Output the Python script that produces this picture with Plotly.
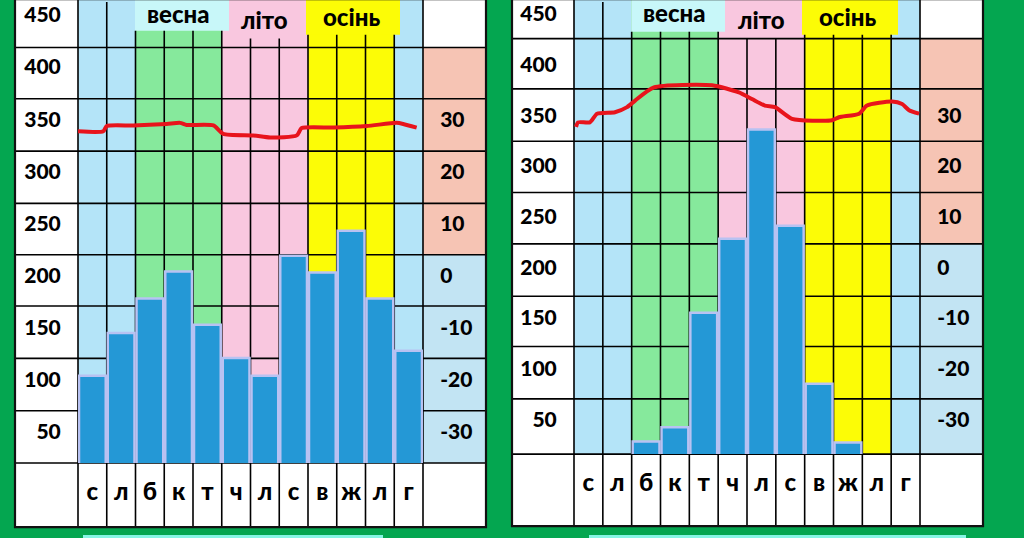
import plotly.graph_objects as go

# ---- data -------------------------------------------------------------
months = ["с", "л", "б", "к", "т", "ч", "л", "с", "в", "ж", "л", "г"]
month_pos = list(range(1, 13))
seasons = ["весна", "літо", "осінь"]
season_mid = [4, 7, 10]

precip_ticks = [50, 100, 150, 200, 250, 300, 350, 400, 450]
temp_ticks = [30, 20, 10, 0, -10, -20, -30]

# left diagram: precipitation (mm) and temperature curve (month position, °C)
precip_a = [104, 145, 178, 204, 153, 121, 104, 219, 203, 243, 178, 128]
temp_a_pos = [0.5, 1.38, 1.5, 2.42, 3.58, 4.05, 4.28, 5.21, 5.55, 6.6, 7.18,
              8.11, 8.28, 9.38, 10.54, 11.58, 11.81, 12.28]
temp_a = [27.7, 27.7, 28.7, 28.8, 29.1, 29.3, 28.9, 28.8, 27.2, 26.9, 26.5,
          26.9, 28.3, 28.4, 28.7, 29.3, 29.1, 28.4]

# right diagram
precip_b = [0, 0, 28, 42, 155, 228, 336, 241, 85, 27, 0, 0]
temp_b_pos = [0.57, 0.64, 1.05, 1.3, 1.92, 2.34, 2.62, 3.27, 5.29, 6.22, 6.67,
              7.12, 7.47, 8.06, 9.45, 9.69, 10.39, 10.66, 11.53, 11.88, 12.12, 12.47]
temp_b = [27.7, 28.6, 28.6, 30.3, 30.6, 31.6, 32.9, 35.5, 35.9, 34.5, 33.2,
          31.9, 31.6, 29.3, 29.0, 29.6, 30.3, 31.9, 32.7, 32.2, 31.0, 30.3]

# ---- styling ----------------------------------------------------------
W, H = 1024, 538
GREEN = "#04a650"
SKY = "#b4e4f8"
SPRING = "#86e99c"
PINK = "#f9c7df"
YELLOW = "#fcfc06"
SPRING_BOX = "#c8f7f9"
WARM = "#f6c4b4"
COLD = "#c2e4f3"
BAR = "#2498d6"
BAR_EDGE = "#b8c2f2"
RED = "#e8141c"
FAMILY = "Lato, 'Open Sans', sans-serif"
FONT = dict(family=FAMILY, size=21, color="black", weight=900)
BIG = dict(family=FAMILY, size=24, color="black", weight=900)

# pixel layout of the two tables
panels = [
    dict(x0=15, xm0=78, xm1=423, x1=486, bottom=527,
         rows=[41, 93, 146, 199, 251, 303, 356, 409, 462], warm_end=251,
         boxes=[(135, 229, 24, SPRING_BOX), (229, 306, 32, PINK), (306, 400, 28, YELLOW)],
         tops=[-5, 24, 24, 24, 24, 32, 32, 28, 28, 28, 28],
         label_y=[7, 13, 10], strip=(83, 383), prange=[20.4, 457.6]),
    dict(x0=512, xm0=574, xm1=920, x1=983, bottom=526,
         rows=[32, 83, 136, 188, 240, 293, 344, 397, 453], warm_end=240,
         boxes=[(632, 725, 25, SPRING_BOX), (725, 802, 32, PINK), (802, 898, 28, YELLOW)],
         tops=[-5, 25, 25, 25, 25, 32, 32, 28, 28, 28, 28],
         label_y=[6, 13, 10], strip=(589, 966), prange=[15.6, 456.8]),
]
month_fill = [SKY, SKY, SPRING, SPRING, SPRING, PINK, PINK, PINK,
              YELLOW, YELLOW, YELLOW, SKY]


def fx(px):
    return px / W


def fy(py):
    return 1 - py / H


def to_temp(p):
    return (p - 200) / 5


fig = go.Figure()
shapes = []
annotations = []
series = [(precip_a, temp_a_pos, temp_a), (precip_b, temp_b_pos, temp_b)]

for i, (pn, (precip, tpos, temp)) in enumerate(zip(panels, series)):
    xa = "x" if i == 0 else "x3"
    ya = "y" if i == 0 else "y3"
    ta = "y2" if i == 0 else "y4"

    fig.add_trace(go.Bar(x=month_pos, y=precip, xaxis=xa, yaxis=ya,
                         marker=dict(color=BAR, line=dict(color=BAR_EDGE, width=2.5)),
                         showlegend=False, hoverinfo="y"))
    fig.add_trace(go.Scatter(x=tpos, y=temp, xaxis=xa, yaxis=ta, mode="lines",
                             line=dict(color=RED, width=4, shape="spline", smoothing=0.6),
                             showlegend=False, hoverinfo="y"))

    top = -8
    bot_plot = pn["rows"][-1]
    cw = (pn["xm1"] - pn["xm0"]) / 12

    def rect(x0, x1, y0, y1, color):
        shapes.append(dict(type="rect", xref="paper", yref="paper", layer="below",
                           x0=fx(x0), x1=fx(x1), y0=fy(y1), y1=fy(y0),
                           fillcolor=color, line=dict(width=0)))

    def hline(x0, x1, y, w=1.6):
        shapes.append(dict(type="line", xref="paper", yref="paper", layer="below",
                           x0=fx(x0), x1=fx(x1), y0=fy(y), y1=fy(y),
                           line=dict(color="black", width=w)))

    def vline(x, y0, y1, w=1.6):
        shapes.append(dict(type="line", xref="paper", yref="paper", layer="below",
                           x0=fx(x), x1=fx(x), y0=fy(y0), y1=fy(y1),
                           line=dict(color="black", width=w)))

    # white table
    rect(pn["x0"], pn["x1"], top, pn["bottom"], "white")
    # month columns
    for k, col in enumerate(month_fill):
        rect(pn["xm0"] + k * cw, pn["xm0"] + (k + 1) * cw, top, bot_plot, col)
    # season header boxes
    for bx0, bx1, by, col in pn["boxes"]:
        rect(bx0, bx1, top, by, col)
    # temperature column
    rect(pn["xm1"], pn["x1"], pn["rows"][0], pn["warm_end"], WARM)
    rect(pn["xm1"], pn["x1"], pn["warm_end"], bot_plot, COLD)
    # grid
    for r in pn["rows"]:
        hline(pn["x0"], pn["x1"], r)
    for k in range(1, 12):
        vline(pn["xm0"] + k * cw, pn["tops"][k - 1], pn["bottom"])
    vline(pn["xm0"], top, pn["bottom"])
    vline(pn["xm1"], top, pn["bottom"])
    # frame
    shapes.append(dict(type="rect", xref="paper", yref="paper", layer="below",
                       x0=fx(pn["x0"]), x1=fx(pn["x1"]), y0=fy(pn["bottom"]), y1=fy(top),
                       line=dict(color="#111111", width=2.2)))
    # strip under the table
    rect(pn["strip"][0], pn["strip"][1], 535, 545, "#86f5e4")

    for s, m, ly in zip(seasons, season_mid, pn["label_y"]):
        annotations.append(dict(text=s, x=m, xref=xa, y=fy(ly), yref="paper",
                                showarrow=False, font=BIG, yanchor="middle"))

    pr = pn["prange"]
    xdom = [fx(pn["xm0"]), fx(pn["xm1"])]
    ydom = [fy(bot_plot), 1]
    xkey = "xaxis" if i == 0 else "xaxis3"
    ykey = "yaxis" if i == 0 else "yaxis3"
    tkey = "yaxis2" if i == 0 else "yaxis4"
    fig.update_layout({
        xkey: dict(domain=xdom, range=[0.5, 12.5], anchor=ya,
                   tickvals=month_pos, ticktext=months, tickfont=BIG,
                   ticks="outside", ticklen=7, tickcolor="rgba(0,0,0,0)",
                   showgrid=False, zeroline=False, showline=False, fixedrange=True),
        ykey: dict(domain=ydom, range=pr, anchor=xa, tickvals=precip_ticks,
                   tickfont=FONT, ticks="outside", ticklen=12,
                   tickcolor="rgba(0,0,0,0)", showgrid=False, zeroline=False,
                   showline=False, fixedrange=True, ticklabeloverflow="allow"),
        tkey: dict(domain=ydom, range=[to_temp(pr[0]), to_temp(pr[1])],
                   overlaying=ya, side="right", anchor=xa, tickvals=temp_ticks,
                   ticktext=[str(t) for t in temp_ticks],
                   tickfont=FONT, ticks="outside", ticklen=12,
                   tickcolor="rgba(0,0,0,0)", showgrid=False, zeroline=False,
                   showline=False, fixedrange=True, ticklabeloverflow="allow"),
    })

fig.update_layout(
    width=W, height=H,
    margin=dict(l=0, r=0, t=0, b=0),
    paper_bgcolor=GREEN, plot_bgcolor="rgba(0,0,0,0)",
    bargap=0.07, showlegend=False,
    shapes=shapes, annotations=annotations,
)

# the page's default body margin would shift the figure by 8px
fig.write_html("out.html", config={"displayModeBar": False},
               post_script="document.body.style.margin='0';")
